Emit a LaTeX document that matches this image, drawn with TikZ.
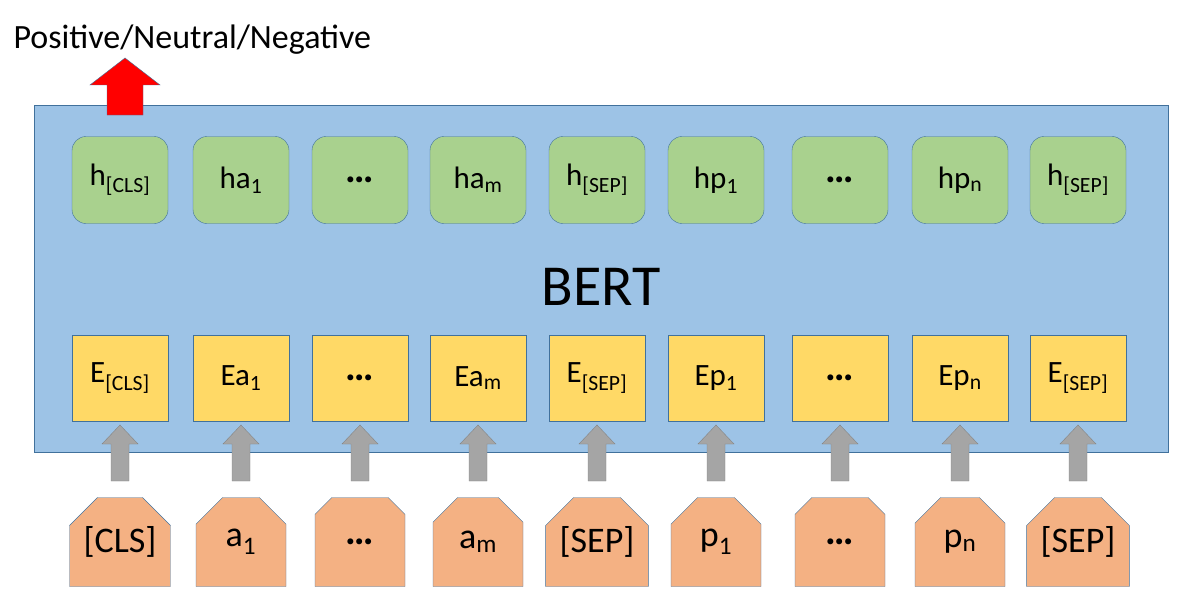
\documentclass[tikz,border=0pt]{standalone}
\usepackage{fontspec}
\setmainfont{Carlito}
\usetikzlibrary{shapes.misc}
\definecolor{bluebg}{HTML}{9DC3E6}
\definecolor{edgeb}{HTML}{41719C}
\definecolor{gr}{HTML}{A9D18E}
\definecolor{yl}{HTML}{FFD966}
\definecolor{org}{HTML}{F4B183}
\definecolor{grayar}{HTML}{A5A5A5}
\newcommand{\mydots}{{\fontsize{40}{40}\selectfont\textbf{…}}}
\begin{document}
\begin{tikzpicture}[x=1pt,y=-1pt,
  hbox/.style={draw=edgeb,fill=gr,rounded corners=14pt,minimum width=96pt,minimum height=87pt,inner sep=0pt,font=\fontsize{31}{34}\selectfont},
  ebox/.style={draw=edgeb,fill=yl,minimum width=96pt,minimum height=86pt,inner sep=0pt,font=\fontsize{31}{34}\selectfont},
  tbox/.style={draw=edgeb,fill=org,chamfered rectangle,chamfered rectangle corners={north east,north west},chamfered rectangle xsep=14pt,chamfered rectangle ysep=14pt,minimum width=90pt,minimum height=89pt,inner sep=0pt,font=\fontsize{36}{40}\selectfont},
  grayarrow/.style={draw=grayar!80!black,fill=grayar},
]
\useasboundingbox (0,0) rectangle (1200,610);
\node[draw=edgeb,fill=bluebg,minimum width=1134pt,minimum height=347pt,inner sep=0pt] (bert) at (601,278.5) {};
\node[font=\fontsize{58}{64}\selectfont] (bl) at (601,287) {BERT};
\draw[draw=edgeb,fill=red] (107,115) -- (107,85) -- (90,85) -- (125,58) -- (160,85) -- (143,85) -- (143,115) -- cycle;
\node[font=\fontsize{34}{38}\selectfont,anchor=west] (lab) at (10,40) {Positive/Neutral/Negative};
\foreach \i/\x/\h/\e/\t in {
 1/120/{h\textsubscript{[CLS]}}/{E\textsubscript{[CLS]}}/{[CLS]},
 2/241/{ha\textsubscript{1}}/{Ea\textsubscript{1}}/{a\textsubscript{1}},
 3/360/{\mydots}/{\mydots}/{\mydots},
 4/478/{ha\textsubscript{m}}/{Ea\textsubscript{m}}/{a\textsubscript{m}},
 5/597/{h\textsubscript{[SEP]}}/{E\textsubscript{[SEP]}}/{[SEP]},
 6/716/{hp\textsubscript{1}}/{Ep\textsubscript{1}}/{p\textsubscript{1}},
 7/840/{\mydots}/{\mydots}/{\mydots},
 8/960/{hp\textsubscript{n}}/{Ep\textsubscript{n}}/{p\textsubscript{n}},
 9/1078/{h\textsubscript{[SEP]}}/{E\textsubscript{[SEP]}}/{[SEP]}}{
 \node[hbox] (h\i) at (\x,180) {\h};
 \node[ebox] (e\i) at (\x,378) {\e};
 \node[tbox] (t\i) at (\x,542) {\t};
 \draw[grayarrow] ({\x-9},481) -- ({\x-9},444) -- ({\x-18},444) -- (\x,425) -- ({\x+18},444) -- ({\x+9},444) -- ({\x+9},481) -- cycle;
}
\end{tikzpicture}
\end{document}
